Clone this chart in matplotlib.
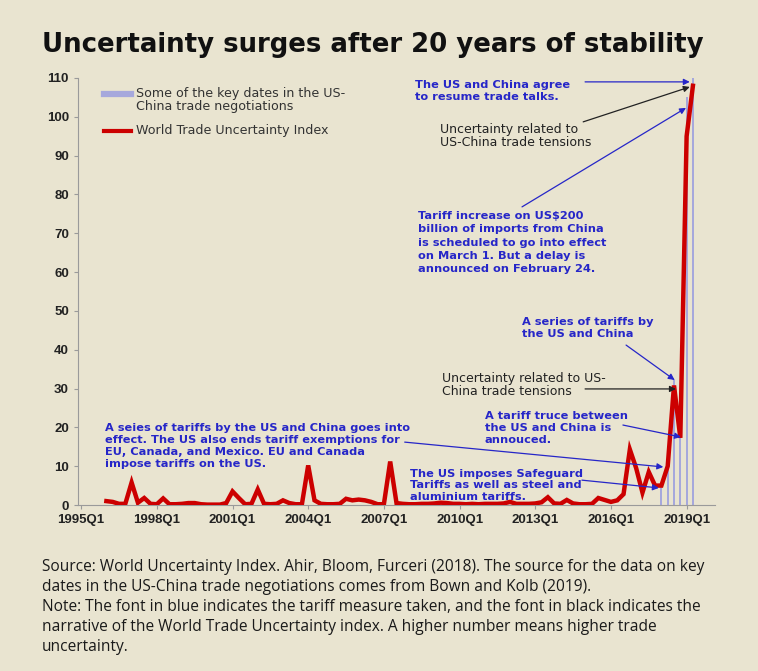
import matplotlib
matplotlib.use("Agg")
import matplotlib.pyplot as plt
from matplotlib.lines import Line2D

# World Trade Uncertainty Index, quarterly from 1996Q1 to 2019Q2
start_quarter = "1996Q1"
wtu_index = [
    1.0, 0.8, 0.3, 0.3,      # 1996
    5.8, 0.6, 1.8, 0.3,      # 1997
    0.2, 1.7, 0.2, 0.2,      # 1998
    0.3, 0.5, 0.5, 0.2,      # 1999
    0.1, 0.1, 0.1, 0.5,      # 2000
    3.5, 1.8, 0.2, 0.3,      # 2001
    4.0, 0.3, 0.2, 0.3,      # 2002
    1.2, 0.5, 0.2, 0.2,      # 2003
    10.2, 1.2, 0.3, 0.2,     # 2004
    0.2, 0.3, 1.6, 1.2,      # 2005
    1.4, 1.2, 0.8, 0.2,      # 2006
    0.2, 11.2, 0.5, 0.3,     # 2007
    0.2, 0.2, 0.3, 0.3,      # 2008
    0.4, 0.6, 0.5, 0.3,      # 2009
    0.3, 0.2, 0.3, 0.2,      # 2010
    0.3, 0.3, 0.3, 0.4,      # 2011
    0.8, 0.3, 0.3, 0.3,      # 2012
    0.4, 0.7, 2.0, 0.4,      # 2013
    0.3, 1.3, 0.4, 0.2,      # 2014
    0.2, 0.3, 1.8, 1.3,      # 2015
    0.8, 1.2, 2.8, 14.3,     # 2016
    9.5, 3.2, 8.5, 5.0,      # 2017
    5.0, 10.0, 30.8, 17.3,   # 2018
    95.0, 108.0,             # 2019
]

# key dates in the US-China trade negotiations (bars)
key_dates = ["2018Q1", "2018Q2", "2018Q3", "2018Q4", "2019Q1", "2019Q2"]
key_heights = [4.8, 10.0, 32.5, 17.5, 105.0, 110.0]

tick_labels = ["1995Q1", "1998Q1", "2001Q1", "2004Q1", "2007Q1",
               "2010Q1", "2013Q1", "2016Q1", "2019Q1"]

BG = "#e9e4d0"
RED = "#cc0000"
LAV = "#a6a8dc"
BLUE = "#2626c8"
DARK = "#222222"


def q_index(label):
    # quarters counted from 1995Q1
    year, q = label.split("Q")
    return (int(year) - 1995) * 4 + int(q) - 1


x0 = q_index(start_quarter)
xs = list(range(x0, x0 + len(wtu_index)))

fig = plt.figure(figsize=(7.58, 6.71), dpi=100, facecolor=BG)
ax = fig.add_axes([78 / 758, 166 / 671, 637 / 758, 427 / 671])
ax.set_facecolor(BG)

ax.bar([q_index(d) for d in key_dates], key_heights, width=0.3, color=LAV, zorder=1)
ax.plot(xs, wtu_index, color=RED, lw=3.2, solid_joinstyle="miter", zorder=3)

ax.set_xlim(-0.5, 100.5)
ax.set_ylim(0, 110)
ax.set_yticks(range(0, 111, 10))
ax.set_xticks([q_index(t) for t in tick_labels])
ax.set_xticklabels(tick_labels)
for s in ["top", "right"]:
    ax.spines[s].set_visible(False)
for s in ["left", "bottom"]:
    ax.spines[s].set_color("#9a9a9a")
ax.tick_params(colors="#9a9a9a", labelcolor=DARK, length=3, labelsize=9.5)
for lab in ax.get_xticklabels() + ax.get_yticklabels():
    lab.set_family("Liberation Sans")
    lab.set_weight("bold")

# legend drawn by hand so the bar swatch sits on the first text line
ax.add_line(Line2D([0.041, 0.083], [0.9625, 0.9625], transform=ax.transAxes,
                   color=LAV, lw=4.5, clip_on=False))
ax.text(0.091, 0.979, "Some of the key dates in the US-\nChina trade negotiations",
        transform=ax.transAxes, va="top", ha="left", fontsize=9.1, color="#333333",
        family="DejaVu Sans", linespacing=1.05)
ax.add_line(Line2D([0.041, 0.083], [0.876, 0.876], transform=ax.transAxes,
                   color=RED, lw=3, clip_on=False))
ax.text(0.091, 0.876, "World Trade Uncertainty Index", transform=ax.transAxes,
        va="center", ha="left", fontsize=9.1, color="#333333", family="DejaVu Sans")

# text, colour, text top-left, arrow start, arrow end, line spacing
notes = [
    ("The US and China agree\nto resume trade talks.", BLUE, (52.9, 109.5),
     (79.9, 109.0), (96.5, 109.0), 1.24),
    ("Uncertainty related to\nUS-China trade tensions", DARK, (56.9, 98.5),
     (79.6, 98.7), (96.5, 107.7), 1.05),
    ("Tariff increase on US$200\nbillion of imports from China\nis scheduled to go into effect\n"
     "on March 1. But a delay is\nannounced on February 24.", BLUE, (53.4, 75.7),
     (69.9, 76.8), (95.9, 102.3), 1.4),
    ("A series of tariffs by\nthe US and China", BLUE, (69.9, 48.4),
     (86.4, 41.2), (94.1, 32.2), 1.24),
    ("Uncertainty related to US-\nChina trade tensions", DARK, (57.2, 34.3),
     (79.9, 29.9), (94.3, 29.9), 1.05),
    ("A tariff truce between\nthe US and China is\nannouced.", BLUE, (64.0, 24.2),
     (85.9, 20.6), (95.1, 17.5), 1.24),
    ("A seies of tariffs by the US and China goes into\neffect. The US also ends tariff exemptions for\n"
     "EU, Canada, and Mexico. EU and Canada\nimpose tariffs on the US.", BLUE, (3.8, 21.0),
     (51.3, 16.2), (92.3, 9.8), 1.24),
    ("The US imposes Safeguard\nTariffs as well as steel and\naluminium tariffs.", BLUE, (52.1, 9.4),
     (79.4, 6.4), (91.6, 4.4), 1.24),
]
for text, col, tpos, a0, a1, ls in notes:
    blue = col == BLUE
    ax.text(tpos[0], tpos[1], text, color=col, fontsize=8.2 if blue else 9,
            va="top", ha="left", family="DejaVu Sans",
            weight="bold" if blue else "normal", linespacing=ls, zorder=4)
    ax.annotate("", xy=a1, xytext=a0,
                arrowprops=dict(arrowstyle="-|>", color=col, lw=0.9,
                                mutation_scale=9, shrinkA=0, shrinkB=0), zorder=4)

fig.text(42 / 758, 1 - 45 / 671, "Uncertainty surges after 20 years of stability",
         fontsize=18.7, weight="bold", family="DejaVu Sans", color="#111111",
         va="center", ha="left")

footer = [
    "Source: World Uncertainty Index. Ahir, Bloom, Furceri (2018). The source for the data on key",
    "dates in the US-China trade negotiations comes from Bown and Kolb (2019).",
    "Note: The font in blue indicates the tariff measure taken, and the font in black indicates the",
    "narrative of the World Trade Uncertainty index. A higher number means higher trade",
    "uncertainty.",
]
for i, line in enumerate(footer):
    fig.text(42 / 758, 1 - (567 + 20 * i) / 671, line, fontsize=11.2, family="Open Sans",
             color="#1a1a1a", va="center", ha="left")

fig.savefig("out.png", dpi=100, facecolor=BG)
